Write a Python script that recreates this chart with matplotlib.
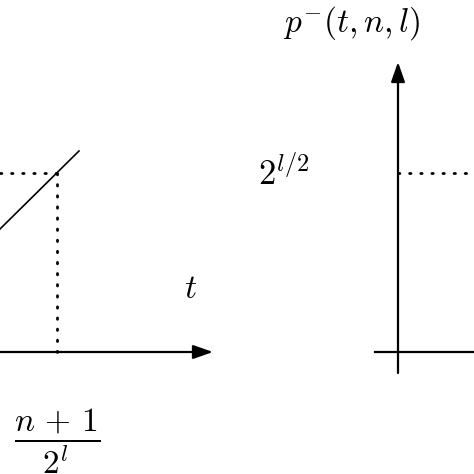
import matplotlib.pyplot as plt

plt.rcParams['mathtext.fontset'] = 'cm'

# schematic coordinates (plot units, y up)
axis_y = 122          # horizontal t-axis level
level = 301           # 2^{l/2} level
t_mark = 57           # (n+1)/2^l position on left panel

# left panel: ramp part of p
ramp_t = [0, 79]
ramp_p = [245, 323]

# left axis
left_axis_t = [0, 213]

# right panel axes
right_origin_x = 398
right_vaxis = [101, 412]
right_haxis = [375, 474]
right_dot_t = [398, 474]

fig = plt.figure(figsize=(4.74, 4.74), dpi=100)
ax = fig.add_axes([0, 0, 1, 1])
ax.set_xlim(0, 474)
ax.set_ylim(0, 474)
ax.axis('off')

dots = dict(color='k', lw=2.0, linestyle=(0, (0.5, 3.5)), dash_capstyle='round')
arrow = dict(arrowstyle='-|>,head_length=0.8,head_width=0.28', lw=1.6, color='k',
             shrinkA=0, shrinkB=0, mutation_scale=15)

# left panel
ax.annotate('', xy=(left_axis_t[1], axis_y), xytext=(left_axis_t[0], axis_y), arrowprops=arrow)
ax.plot(ramp_t, ramp_p, color='k', lw=1.2)
ax.plot([0, t_mark], [level, level], **dots)
ax.plot([t_mark, t_mark], [level, axis_y], **dots)
ax.text(191, 186, r'$t$', fontsize=24, ha='center', va='center')
ax.text(t_mark, 33, r'$\dfrac{n\,+\,1}{2^l}$', fontsize=24, ha='center', va='center')

# right panel
ax.annotate('', xy=(right_origin_x, right_vaxis[1]), xytext=(right_origin_x, right_vaxis[0]),
            arrowprops=arrow)
ax.plot(right_haxis, [axis_y, axis_y], color='k', lw=1.6)
ax.plot(right_dot_t, [level, level], **dots)
ax.text(284, 300, r'$2^{l/2}$', fontsize=25, ha='center', va='center')
ax.text(352, 451, r'$p^{-}(t,n,l)$', fontsize=24, ha='center', va='center')

fig.savefig('out.png', dpi=100)
